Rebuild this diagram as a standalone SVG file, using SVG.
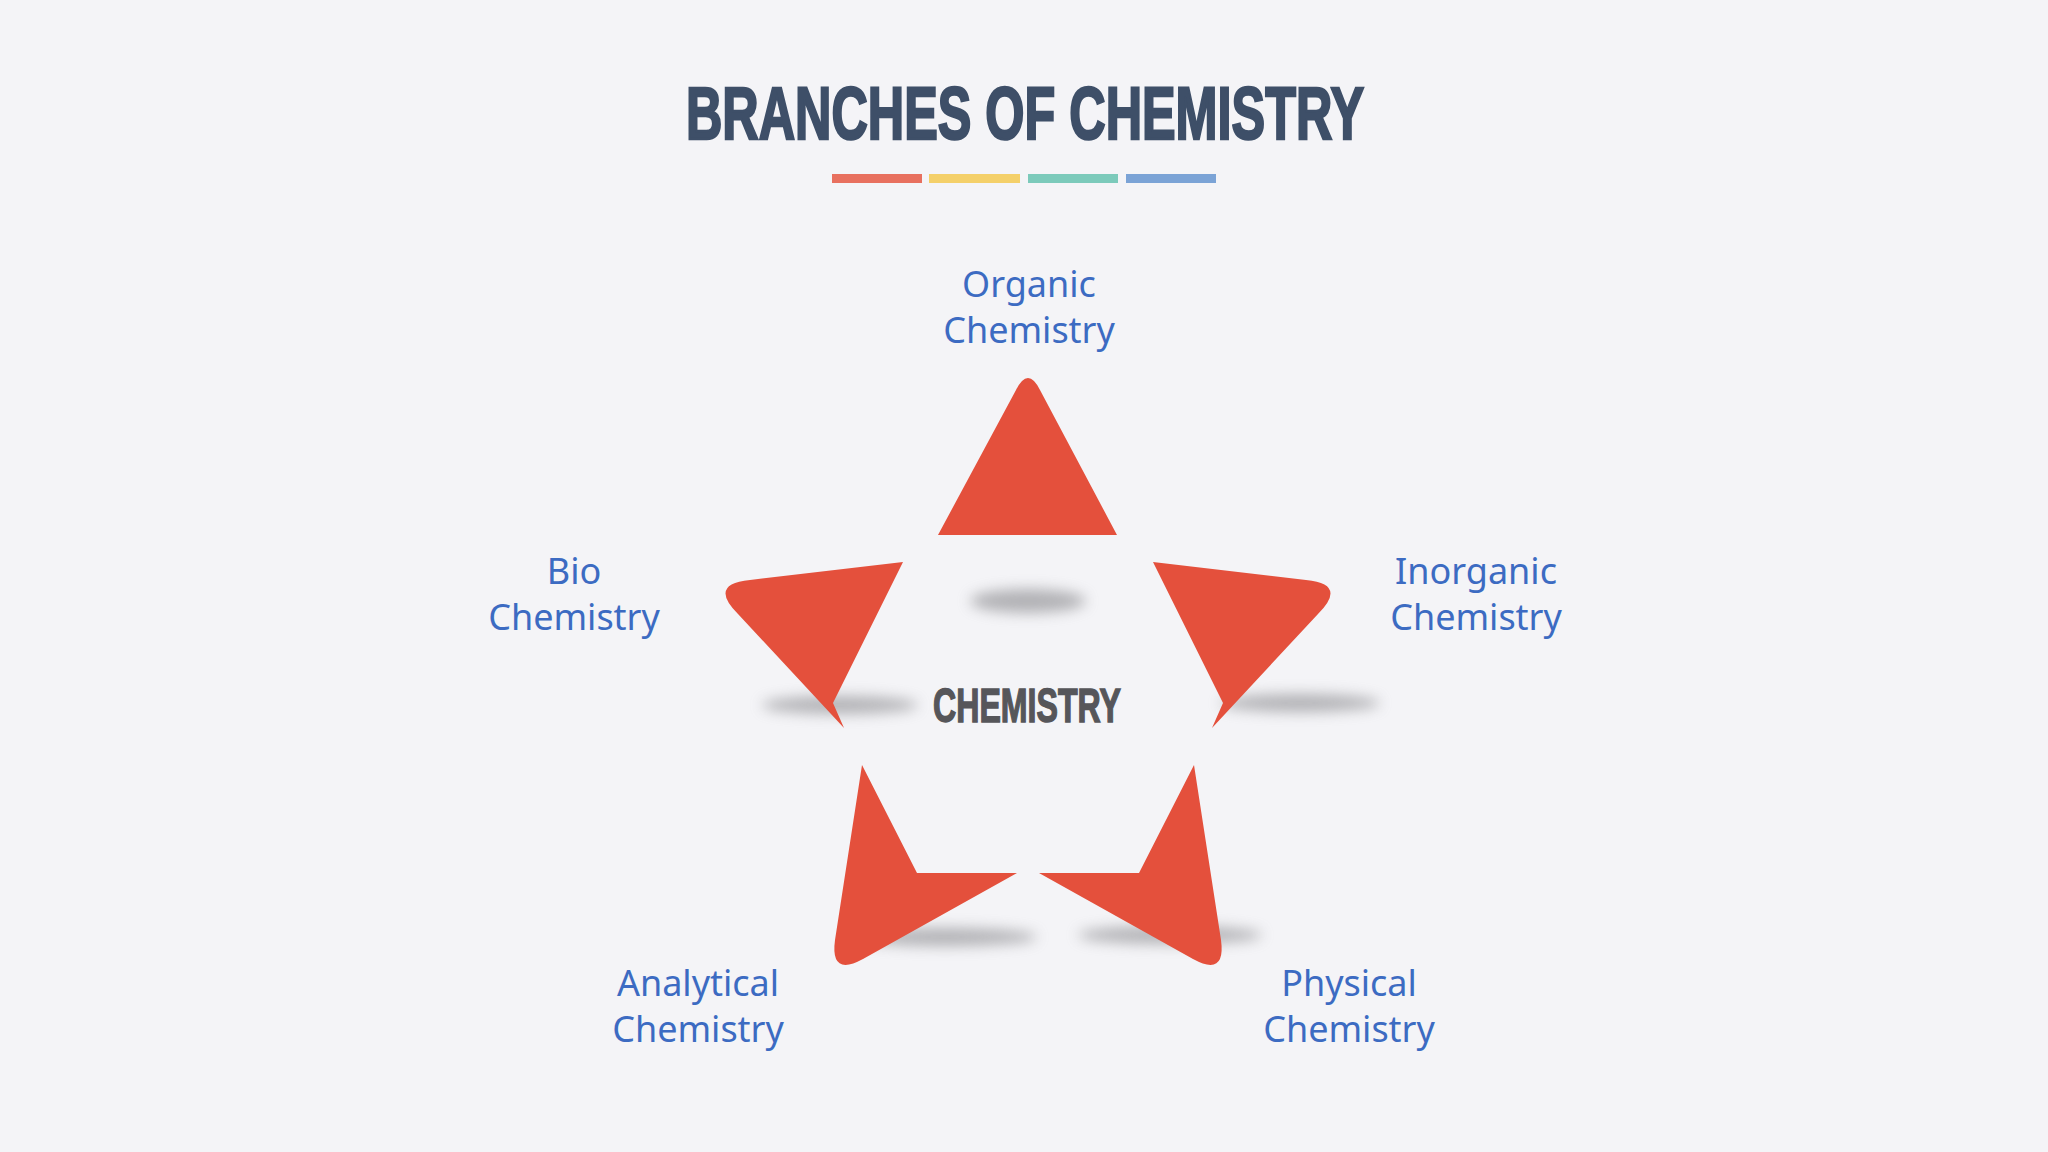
<svg xmlns="http://www.w3.org/2000/svg" width="2048" height="1152" viewBox="0 0 2048 1152">
  <defs>
    <style>
      .piece { fill: #e4503c; }
      .shadow { fill: #86868a; opacity: 0.6; filter: url(#blur); }
      .label { font-family: "Noto Sans", "Open Sans", "DejaVu Sans", sans-serif; font-size: 36px; fill: #3c6bc2; text-anchor: middle; }
      .title { font-family: "Liberation Sans", Arial, sans-serif; font-weight: bold; fill: #3e4f68; stroke: #3e4f68; stroke-width: 2.5px; }
      .center { font-family: "Liberation Sans", Arial, sans-serif; font-weight: bold; fill: #56565a; stroke: #56565a; stroke-width: 1.5px; }
    </style>
    <filter id="blur" x="-30%" y="-200%" width="160%" height="500%">
      <feGaussianBlur stdDeviation="7"/>
    </filter>
  </defs>
  <rect width="2048" height="1152" fill="#f4f4f7"/>

  <g id="title">
    <text class="title" x="1025" y="139" font-size="74" text-anchor="middle" textLength="678" lengthAdjust="spacingAndGlyphs">BRANCHES OF CHEMISTRY</text>
    <rect x="832" y="174" width="90" height="9" fill="#e8705f"/>
    <rect x="929" y="174" width="91" height="9" fill="#f4d06a"/>
    <rect x="1028" y="174" width="90" height="9" fill="#7ccabb"/>
    <rect x="1126" y="174" width="90" height="9" fill="#7ba3d6"/>
  </g>

  <g id="shadows">
    <ellipse class="shadow" cx="1028" cy="601" rx="58" ry="12"/>
    <ellipse class="shadow" cx="840" cy="705" rx="78" ry="9"/>
    <ellipse class="shadow" cx="1300" cy="703" rx="80" ry="9"/>
    <ellipse class="shadow" cx="945" cy="937" rx="92" ry="9"/>
    <ellipse class="shadow" cx="1170" cy="935" rx="92" ry="9"/>
  </g>

  <g id="organic">
    <path class="piece" d="M938,535 L1016,390 Q1028,366 1040,390 L1117,535 Z"/>
    <text class="label" x="1029" y="297">Organic</text>
    <text class="label" x="1029" y="343">Chemistry</text>
  </g>

  <g id="bio">
    <path class="piece" d="M903,562 L750,580 Q708,584 738,614 L844,728 L833,703 Z"/>
    <text class="label" x="574" y="584">Bio</text>
    <text class="label" x="574" y="630">Chemistry</text>
  </g>

  <g id="inorganic">
    <path class="piece" d="M1153,562 L1306,580 Q1348,584 1318,614 L1212,728 L1223,703 Z"/>
    <text class="label" x="1476" y="584">Inorganic</text>
    <text class="label" x="1476" y="630">Chemistry</text>
  </g>

  <g id="analytical">
    <path class="piece" d="M862,765 L917,873 L1017,873 L863,959 Q830,977 835,940 Z"/>
    <text class="label" x="698" y="996">Analytical</text>
    <text class="label" x="698" y="1042">Chemistry</text>
  </g>

  <g id="physical">
    <path class="piece" d="M1194,765 L1139,873 L1039,873 L1193,959 Q1226,977 1221,940 Z"/>
    <text class="label" x="1349" y="996">Physical</text>
    <text class="label" x="1349" y="1042">Chemistry</text>
  </g>

  <g id="center">
    <text class="center" x="1027" y="722" font-size="48" text-anchor="middle" textLength="188" lengthAdjust="spacingAndGlyphs">CHEMISTRY</text>
  </g>

  <g id="connectors"></g>
</svg>
